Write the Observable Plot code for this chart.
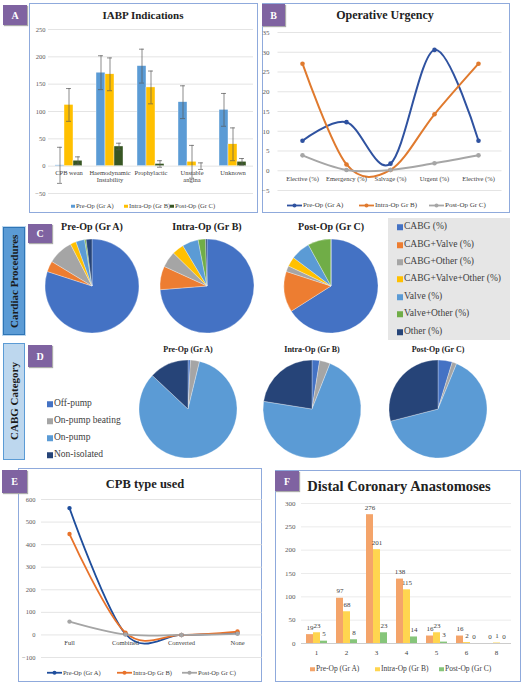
<!DOCTYPE html>
<html><head><meta charset="utf-8">
<script src="https://cdn.jsdelivr.net/npm/d3@7"></script>
<script src="https://cdn.jsdelivr.net/npm/@observablehq/plot@0.6"></script>
<style>
body{margin:0;background:#fff;font-family:"Liberation Serif","Times New Roman",serif;}
#fig{position:relative;width:524px;height:685px;overflow:hidden;background:#fff;}
.panel{border:1.5px solid #8FAADC;box-sizing:border-box;}
.tag{background:#7F63A1;color:#fff;font-weight:bold;font-size:10px;display:flex;align-items:center;justify-content:center;box-shadow:1px 1px 1px #aaa;box-sizing:border-box;}
.title{font-weight:bold;color:#222;white-space:nowrap;transform:translate(-50%,-50%);line-height:1;}
.side{box-sizing:border-box;display:flex;align-items:center;justify-content:center;font-weight:bold;color:#1a1a1a;font-size:11px;writing-mode:vertical-rl;transform:rotate(180deg);white-space:nowrap;}
</style></head>
<body><div id="fig"></div>
<script>
// ---------- DATA ----------
const groups = ["Pre-Op (Gr A)", "Intra-Op (Gr B)", "Post-Op (Gr C)"];

// A: IABP Indications
const iabpCats = ["CPB wean", "Haemodynamic Instability", "Prophylactic", "Unstable angina", "Unknown"];
const iabpLabels = ["CPB wean", "Haemodynamic\nInstability", "Prophylactic", "Unstable\nangina", "Unknown"];
const iabpPre = [1.5, 171, 183, 117, 103];
const iabpIntra = [112, 168, 144, 8, 40];
const iabpPost = [10, 36, 4, 0, 8];
const iabpErrPre = [33, 31, 31, 30, 30];
const iabpErrIntra = [30, 30, 30, 30, 30];
const iabpErrPost = [7, 6, 6, 6, 6];
const iabpTicks = [-50, 0, 50, 100, 150, 200, 250];

// B: Operative Urgency
const urgCats = ["Elective (%)", "Emergency (%)", "Salvage (%)", "Urgent (%)", "Elective (%)"];
const urgPre = [7.6, 12.3, 1.8, 30.6, 7.6];
const urgIntra = [27.1, 1.6, 0.2, 14.3, 27.1];
const urgPost = [3.9, 0.2, 0.2, 1.9, 3.9];
const urgTicks = [-5, 0, 5, 10, 15, 20, 25, 30, 35];

// C: Cardiac Procedures
const procCats = ["CABG (%)", "CABG+Valve (%)", "CABG+Other (%)", "CABG+Valve+Other (%)", "Valve (%)", "Valve+Other (%)", "Other (%)"];
const procPre = [79.5, 3.7, 8.7, 2.0, 3.0, 0.5, 2.0];
const procIntra = [73, 8, 5.5, 4, 5.5, 2.5, 0.5];
const procPost = [66, 14, 2, 3.3, 6.7, 8, 0];
const procColors = ["#4472C4", "#ED7D31", "#A5A5A5", "#FFC000", "#5B9BD5", "#70AD47", "#264478"];

// D: CABG Category
const cabgCats = ["Off-pump", "On-pump beating", "On-pump", "Non-isolated"];
const cabgPre = [0.8, 3, 83.2, 13];
const cabgIntra = [2.5, 3.5, 71.5, 22.5];
const cabgPost = [4.7, 1.5, 64.8, 29];
const cabgColors = ["#4472C4", "#A5A5A5", "#5B9BD5", "#264478"];

// E: CPB type used
const cpbCats = ["Full", "Combined", "Converted", "None"];
const cpbPre = [562, 4, 0, 8];
const cpbIntra = [447, 10, 0, 15];
const cpbPost = [59, 2, 0, 5];
const cpbTicks = [-100, 0, 100, 200, 300, 400, 500, 600];

// F: Distal Coronary Anastomoses
const dcaCats = ["1", "2", "3", "4", "5", "6", "8"];
const dcaPre = [19, 97, 276, 138, 16, 16, 0];
const dcaIntra = [23, 68, 201, 115, 23, 2, 1];
const dcaPost = [5, 8, 23, 14, 3, 0, 0];
const dcaTicks = [0, 50, 100, 150, 200, 250, 300];

// ---------- HELPERS ----------
const font = '"Liberation Serif","Times New Roman",serif';
const fig = document.getElementById("fig");
function put(node, left, top) { node.style.position = "absolute"; node.style.left = left + "px"; node.style.top = top + "px"; fig.appendChild(node); return node; }
function box(cls, html, left, top, w, h, css) {
  const d = document.createElement("div"); d.className = cls; d.innerHTML = html;
  d.style.cssText = (css || "") + (w != null ? `width:${w}px;height:${h}px;` : "");
  return put(d, left, top);
}
function title(text, cx, cy, fs) { box("title", text, cx, cy, null, null, `font-size:${fs}px;`); }
function legSquare(x, y, color, text, fs, sq) {
  box("", `<span style="display:inline-block;width:${sq}px;height:${sq}px;background:${color};margin-right:1.5px"></span>${text}`, x, y, null, null,
    `transform:translateY(-50%);font-size:${fs}px;white-space:nowrap;color:#404040;display:flex;align-items:center;line-height:1;`);
}
function legLine(x, y, color, text, fs) {
  box("", `<svg width="15" height="6" style="margin-right:1px;overflow:visible"><line x1="0" y1="3" x2="15" y2="3" stroke="${color}" stroke-width="1.8"/><circle cx="7.5" cy="3" r="2" fill="${color}"/></svg>${text}`, x, y, null, null,
    `transform:translateY(-50%);font-size:${fs}px;white-space:nowrap;color:#404040;display:flex;align-items:center;line-height:1;`);
}
const baseStyle = (fs) => ({fontFamily: font, fontSize: fs + "px", color: "#595959", background: "transparent", overflow: "visible"});

// ---------- PANEL FRAMES ----------
box("panel", "", 29, 3, 229, 210);
box("panel", "", 262, 3, 248, 210);
box("panel", "", 18, 468, 244, 214);
box("panel", "", 275, 470, 246, 212);

// ---------- A ----------
const dataA = [];
[iabpPre, iabpIntra, iabpPost].forEach((arr, gi) => arr.forEach((v, i) =>
  dataA.push({cat: iabpCats[i], grp: groups[gi], v, e: [iabpErrPre, iabpErrIntra, iabpErrPost][gi][i]})));
const labA = iabpCats.map((c, i) => ({cat: c, label: iabpLabels[i]}));
const plotA = Plot.plot({
  width: 228, height: 180, marginTop: 7, marginBottom: 9, marginLeft: 18, marginRight: 5,
  style: baseStyle(6.5),
  fx: {domain: iabpCats, padding: 0, axis: null},
  x: {domain: groups, paddingInner: 0.05, paddingOuter: 0.75, axis: null},
  y: {domain: [-50, 250], ticks: iabpTicks, tickSize: 0, tickPadding: 3, label: null},
  color: {domain: groups, range: ["#5B9BD5", "#FFC000", "#375623"]},
  marks: [
    Plot.gridY(iabpTicks, {stroke: "#D9D9D9", strokeOpacity: 1, strokeWidth: 0.7}),
    Plot.barY(dataA, {fx: "cat", x: "grp", y: "v", fill: "grp", stroke: "#fff", strokeWidth: 0.4}),
    Plot.ruleX(dataA, {fx: "cat", x: "grp", y1: d => d.v - d.e, y2: d => d.v + d.e, stroke: "#595959", strokeWidth: 0.7}),
    Plot.tickY(dataA, {fx: "cat", x: "grp", y: d => d.v + d.e, insetLeft: 2, insetRight: 2, stroke: "#595959", strokeWidth: 0.7}),
    Plot.tickY(dataA, {fx: "cat", x: "grp", y: d => d.v - d.e, insetLeft: 2, insetRight: 2, stroke: "#595959", strokeWidth: 0.7}),
    Plot.text(labA, {fx: "cat", y: d => 0, text: "label", dy: 4, lineAnchor: "top", lineHeight: 1.05, fill: "#404040", fontSize: 6.5})
  ]
});
put(plotA, 30, 22);
box("tag", "A", 3, 5, 24, 20);
title("IABP Indications", 143, 15, 11);
legSquare(71, 206, "#5B9BD5", "Pre-Op (Gr A)", 6.5, 3.5);
legSquare(124, 206, "#FFC000", "Intra-Op (Gr B)", 6.5, 3.5);
legSquare(170, 206, "#375623", "Post-Op (Gr C)", 6.5, 3.5);

// ---------- B ----------
const colB = ["#2F52A0", "#E07A2E", "#A6A6A6"];
const dataB = [];
[urgPre, urgIntra, urgPost].forEach((arr, gi) => arr.forEach((v, i) => dataB.push({i, v, grp: groups[gi]})));
const labB = urgCats.map((c, i) => ({i, label: c}));
const plotB = Plot.plot({
  width: 248, height: 170, marginTop: 7, marginBottom: 5, marginLeft: 15.5, marginRight: 8.5,
  style: baseStyle(7),
  x: {type: "point", domain: [0, 1, 2, 3, 4], padding: 0.5, axis: null},
  y: {domain: [-5, 35], ticks: urgTicks, tickSize: 0, tickPadding: 8.5, label: null},
  color: {domain: groups, range: colB},
  marks: [
    Plot.gridY(urgTicks, {stroke: "#D9D9D9", strokeOpacity: 1, strokeWidth: 0.7}),
    Plot.line(dataB, {x: "i", y: "v", stroke: "grp", curve: "cardinal", strokeWidth: 2}),
    Plot.dot(dataB, {x: "i", y: "v", fill: "grp", r: 2.3}),
    Plot.text(labB, {x: "i", y: d => 0, text: "label", dy: 8, fill: "#404040", fontSize: 6.5})
  ]
});
put(plotB, 262, 25);
box("tag", "B", 262, 4, 23, 22);
title("Operative Urgency", 385, 15, 12);
legLine(287, 205, colB[0], "Pre-Op (Gr A)", 7);
legLine(359, 205, colB[1], "Intra-Op Gr B)", 7);
legLine(429, 205, colB[2], "Post-Op Gr C)", 7);

// ---------- PIE helper ----------
function piePlot(cats, vals, colors, r) {
  const data = cats.map((c, i) => ({cat: c, v: vals[i]}));
  const color = Plot.scale({color: {type: "ordinal", domain: cats, range: colors}});
  const arcs = d3.pie().sort(null).value(d => d.v)(data);
  const arc = d3.arc().innerRadius(0).outerRadius(r);
  return Plot.plot({
    width: 2 * r + 2, height: 2 * r + 2, margin: 0,
    style: {background: "transparent", overflow: "visible"},
    marks: [
      () => {
        const g = d3.create("svg:g").attr("transform", `translate(${r + 1},${r + 1})`);
        g.selectAll("path").data(arcs).join("path")
          .attr("d", arc).attr("fill", d => color.apply(d.data.cat))
          .attr("stroke", "#fff").attr("stroke-width", 0.3);
        return g.node();
      }
    ]
  });
}

// ---------- C ----------
box("side", "Cardiac Procedures", 3, 227, 22, 108, "background:#5B9BD5;border:1.5px solid #2E75B6;outline:1px solid #BDD7EE;");
box("tag", "C", 28, 224, 24, 19);
const rC = 47;
[[procPre, 92, "Pre-Op (Gr A)"], [procIntra, 207, "Intra-Op (Gr B)"], [procPost, 331, "Post-Op (Gr C)"]].forEach(([vals, cx, t]) => {
  put(piePlot(procCats, vals, procColors, rC), cx - rC - 1, 286 - rC - 1);
  title(t, cx, 227, 10);
});
box("", "", 388, 218, 122, 122, "background:#E6E6E6;");
const legYC = [227, 245, 262, 279, 297, 314, 332];
procCats.forEach((c, i) => legSquare(397, legYC[i], procColors[i], c, 9.5, 5.5));

// ---------- D ----------
box("side", "CABG Category", 3, 343, 22, 117, "background:#BDD7EE;border:1.5px solid #5B9BD5;");
box("tag", "D", 28, 345, 24, 22);
const rD = 49;
[[cabgPre, 188, "Pre-Op (Gr A)"], [cabgIntra, 312, "Intra-Op (Gr B)"], [cabgPost, 438, "Post-Op (Gr C)"]].forEach(([vals, cx, t]) => {
  put(piePlot(cabgCats, vals, cabgColors, rD), cx - rD - 1, 409 - rD - 1);
  title(t, cx, 350, 8);
});
const legYD = [404, 421, 438, 455];
cabgCats.forEach((c, i) => legSquare(47, legYD[i], cabgColors[i], c, 9.5, 5.5));

// ---------- E ----------
const colE = ["#1F4E9C", "#E8722A", "#A5A5A5"];
const dataE = [];
[cpbPre, cpbIntra, cpbPost].forEach((arr, gi) => arr.forEach((v, i) => dataE.push({i, v, grp: groups[gi]})));
const labE = cpbCats.map((c, i) => ({i, label: c}));
const plotE = Plot.plot({
  width: 243, height: 172, marginTop: 7, marginBottom: 7, marginLeft: 22, marginRight: 0,
  style: baseStyle(6.5),
  x: {type: "point", domain: [0, 1, 2, 3], padding: 0.5, range: [22, 246], axis: null},
  y: {domain: [-100, 600], ticks: cpbTicks, tickSize: 0, tickPadding: 6, label: null},
  color: {domain: groups, range: colE},
  marks: [
    Plot.gridY(cpbTicks, {stroke: "#D9D9D9", strokeOpacity: 1, strokeWidth: 0.7}),
    Plot.line(dataE, {x: "i", y: "v", stroke: "grp", curve: "cardinal", strokeWidth: 1.8}),
    Plot.dot(dataE, {x: "i", y: "v", fill: "grp", r: 2.2}),
    Plot.text(labE, {x: "i", y: d => 0, text: "label", dy: 8, fill: "#404040", fontSize: 6.5})
  ]
});
put(plotE, 19, 492);
box("tag", "E", 2, 470, 25, 23);
title("CPB type used", 145, 484, 12.5);
legLine(47, 673, colE[0], "Pre-Op (Gr A)", 6.5);
legLine(117, 673, colE[1], "Intra-Op Gr B)", 6.5);
legLine(182, 673, colE[2], "Post-Op Gr C)", 6.5);

// ---------- F ----------
const colF = ["#F4A46A", "#FFD54F", "#86C57A"];
const dataF = [];
[dcaPre, dcaIntra, dcaPost].forEach((arr, gi) => arr.forEach((v, i) => dataF.push({cat: dcaCats[i], grp: groups[gi], v})));
const plotF = Plot.plot({
  width: 246, height: 162, marginTop: 7, marginBottom: 15, marginLeft: 24, marginRight: 9,
  style: baseStyle(7),
  fx: {domain: dcaCats, padding: 0, axis: null},
  x: {domain: groups, paddingInner: 0.04, paddingOuter: 0.4, axis: null},
  y: {domain: [0, 300], ticks: dcaTicks, tickSize: 0, tickPadding: 6, label: null},
  color: {domain: groups, range: colF},
  marks: [
    Plot.gridY(dcaTicks.slice(1), {stroke: "#E3E3E3", strokeOpacity: 1, strokeWidth: 0.7}),
    Plot.barY(dataF, {fx: "cat", x: "grp", y: "v", fill: "grp"}),
    Plot.ruleY([0], {stroke: "#BFBFBF", strokeWidth: 0.8}),
    Plot.text(dataF, {fx: "cat", x: "grp", y: "v", text: d => String(d.v), dy: -7, fill: "#404040", fontSize: 7}),
    Plot.text(dcaCats, {fx: d => d, y: d => 0, text: d => d, dy: 9, fill: "#404040", fontSize: 7})
  ]
});
put(plotF, 275, 496);
box("tag", "F", 275, 471, 24, 20);
title("Distal Coronary Anastomoses", 399, 486, 14.5);
legSquare(310, 669, colF[0], "Pre-Op (Gr A)", 7.5, 4.5);
legSquare(375, 669, colF[1], "Intra-Op (Gr B)", 7.5, 4.5);
legSquare(439, 669, colF[2], "Post-Op (Gr C)", 7.5, 4.5);
</script>
</body></html>
